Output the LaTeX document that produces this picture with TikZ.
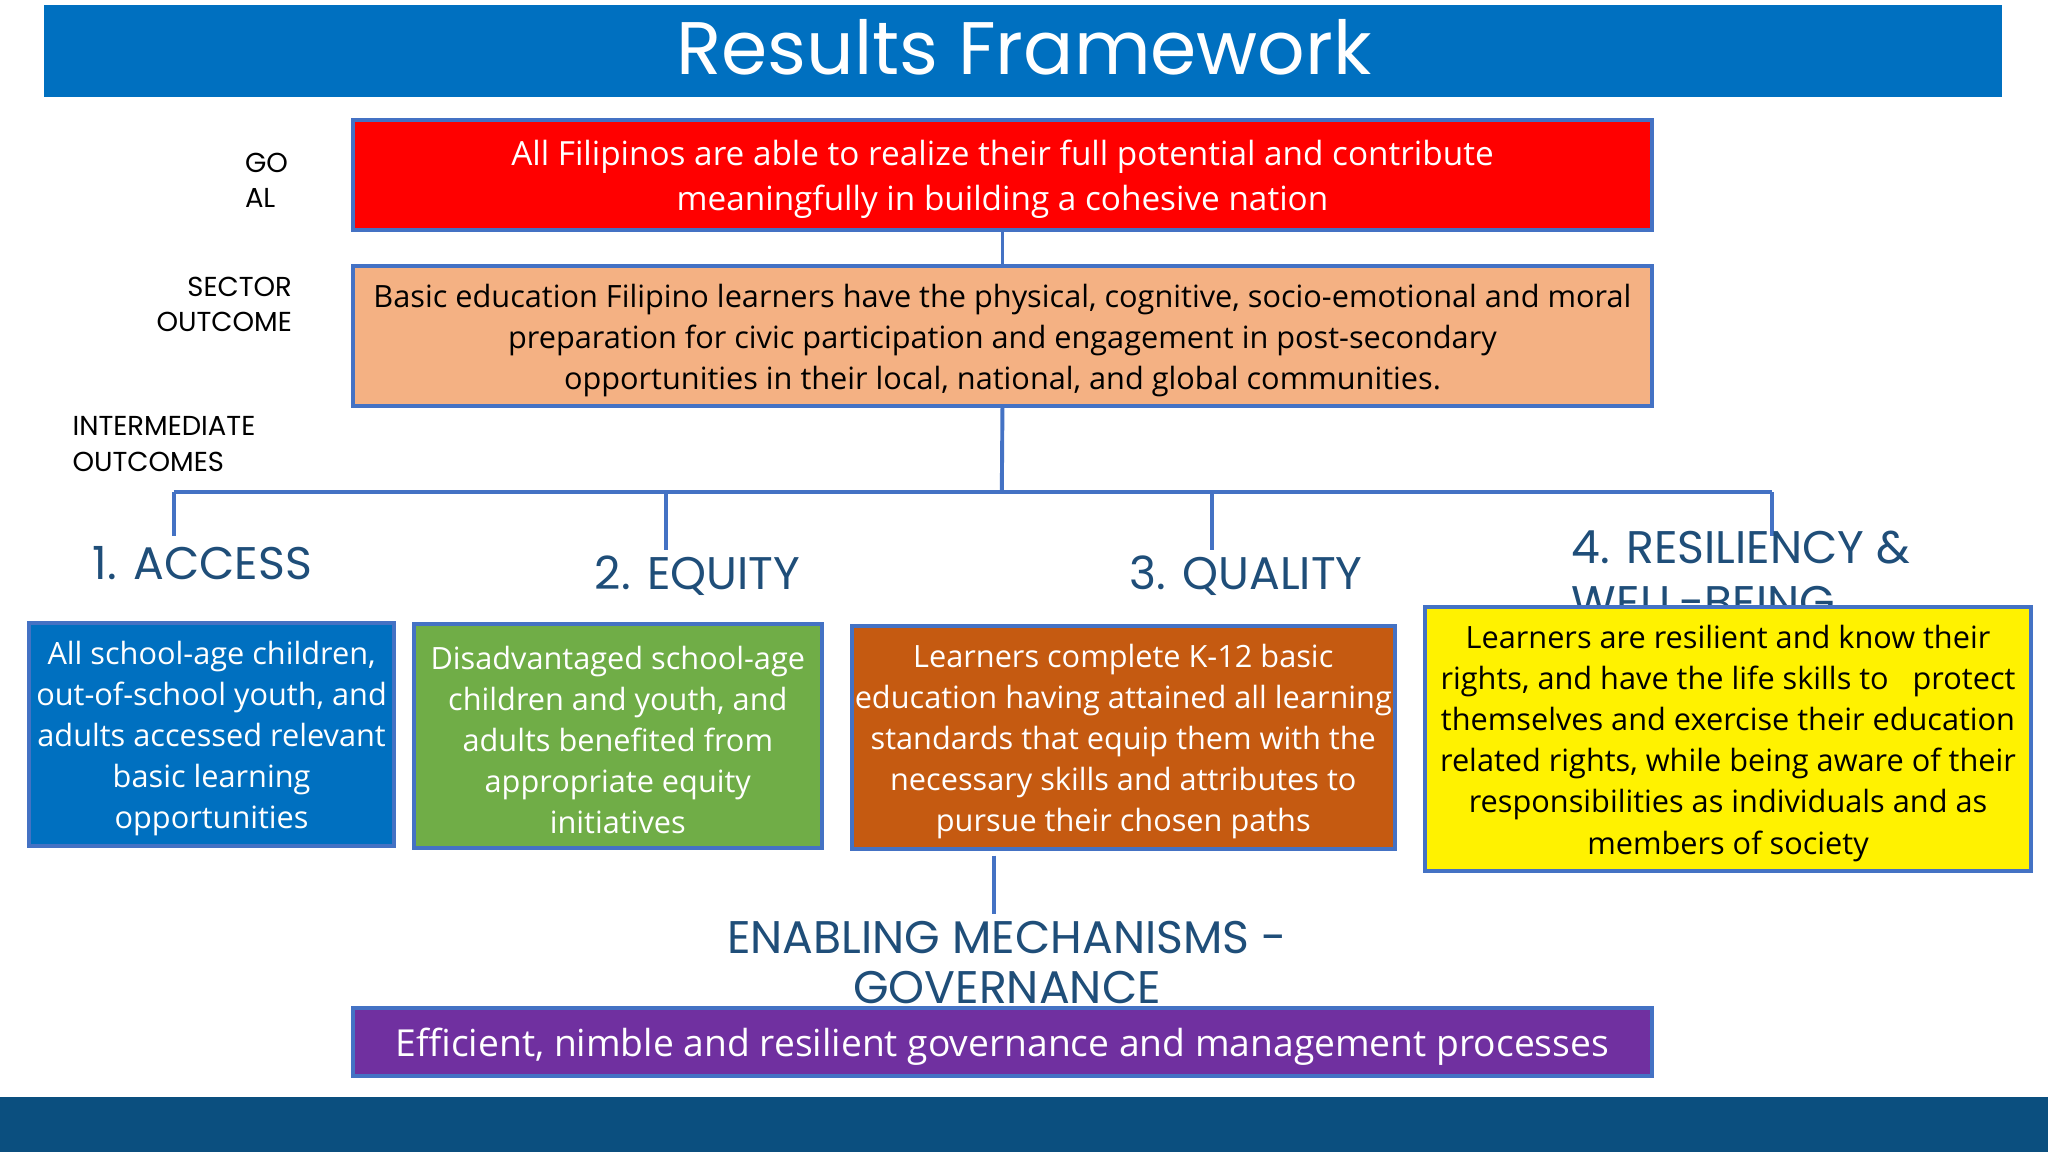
\documentclass[tikz,border=0pt]{standalone}
\usepackage{fontspec}
\setmainfont{Open Sans}
\newfontfamily\pop{Poppins}
\definecolor{tbar}{HTML}{0070C0}
\definecolor{bbar}{HTML}{0B4F7F}
\definecolor{edge}{HTML}{4472C4}
\definecolor{dblue}{HTML}{1F4E79}
\definecolor{salmon}{HTML}{F4B183}
\definecolor{grn}{HTML}{70AD47}
\definecolor{orng}{HTML}{C55A11}
\definecolor{purp}{HTML}{7030A0}
\begin{document}
\begin{tikzpicture}[x=1pt,y=-1pt,
  bx/.style={draw=edge,line width=3pt,inner sep=0pt,align=center,font=\fontsize{23.5}{31.5}\selectfont},
  conn/.style={draw=edge,line width=3pt},
  cat/.style={font=\pop\fontsize{35}{40}\selectfont,text=dblue},
  lab/.style={font=\pop\fontsize{21}{27}\selectfont}]
\useasboundingbox (0,0) rectangle (1568,882);
\fill[white] (0,0) rectangle (1568,882);
\fill[tbar] (34,4) rectangle (1533,74);
\fill[bbar] (0,840) rectangle (1568,882);
\node[font=\pop\fontsize{57}{60}\selectfont,text=white] (title) at (784,36) {Results Framework};
% left labels
\node[lab,align=left] (gl) at (204,138) {GO\\AL};
\node[lab,align=right,anchor=east] (sl) at (227,233) {SECTOR\\OUTCOME};
\node[lab,align=left,anchor=west] (il) at (52,340) {INTERMEDIATE\\OUTCOMES};
% goal & sector
\node[bx,fill=red,text=white,minimum width=995pt,minimum height=84pt,font=\fontsize{25.5}{35}\selectfont] (goal) at (767.5,134) {\rule{0pt}{26pt}All Filipinos are able to realize their full potential and contribute\\meaningfully in building a cohesive nation};
\node[bx,fill=salmon,minimum width=995pt,minimum height=107pt] (sect) at (767.5,257.5) {\rule{0pt}{24pt}Basic education Filipino learners have the physical, cognitive, socio-emotional and moral\\preparation for civic participation and engagement in post-secondary\\opportunities in their local, national, and global communities.};
\draw[conn] (goal.south) -- (sect.north);
\coordinate (hub) at (767,377);
\draw[conn] (sect.south) -- (hub);
\coordinate (c1) at (133,377);\coordinate (c2) at (510,377);\coordinate (c3) at (928,377);\coordinate (c4) at (1357,377);
\coordinate (d1) at (133,410);\coordinate (d2) at (510,421);\coordinate (d3) at (928,421);\coordinate (d4) at (1357,410);
\draw[conn] (c1) -- (c4);
\draw[conn] (c1)--(d1) (c2)--(d2) (c3)--(d3) (c4)--(d4);
\node[cat] (t1) at (155,431) {1. ACCESS};
\node[cat] (t2) at (534,441) {2. EQUITY};
\node[cat] (t3) at (954,441) {3. QUALITY};
\node[cat,align=left,anchor=north west,font=\pop\fontsize{35}{42}\selectfont] (t4) at (1200,403) {4. RESILIENCY \&\\WELL-BEING};
\node[bx,fill=tbar,text=white,minimum width=280pt,minimum height=171pt] (b1) at (162,562.5) {\rule{0pt}{24pt}All school-age children,\\out-of-school youth, and\\adults accessed relevant\\basic learning\\opportunities};
\node[bx,fill=grn,text=white,minimum width=312pt,minimum height=171pt] (b2) at (473,563.5) {\rule{0pt}{24pt}Disadvantaged school-age\\children and youth, and\\adults benefited from\\appropriate equity\\initiatives};
\node[bx,fill=orng,text=white,minimum width=416pt,minimum height=171pt] (b3) at (860,564.5) {\rule{0pt}{24pt}Learners complete K-12 basic\\education having attained all learning\\standards that equip them with the\\necessary skills and attributes to\\pursue their chosen paths};
\node[bx,fill=yellow,minimum width=464pt,minimum height=202pt] (b4) at (1323,566) {\rule{0pt}{24pt}Learners are resilient and know their\\rights, and have the life skills to\ \ \ protect\\themselves and exercise their education\\related rights, while being aware of their\\responsibilities as individuals and as\\members of society};
\coordinate (q1) at (761,655);\coordinate (q2) at (761,700);
\draw[conn] (q1) -- (q2);
\node[cat,align=center,font=\pop\fontsize{35}{38}\selectfont] (en) at (771,737) {ENABLING MECHANISMS -\\GOVERNANCE};
\node[bx,fill=purp,text=white,minimum width=995pt,minimum height=52pt,font=\fontsize{28.5}{32}\selectfont] (gov) at (767.5,798) {\rule{0pt}{29pt}Efficient, nimble and resilient governance and management processes};
\end{tikzpicture}
\end{document}
